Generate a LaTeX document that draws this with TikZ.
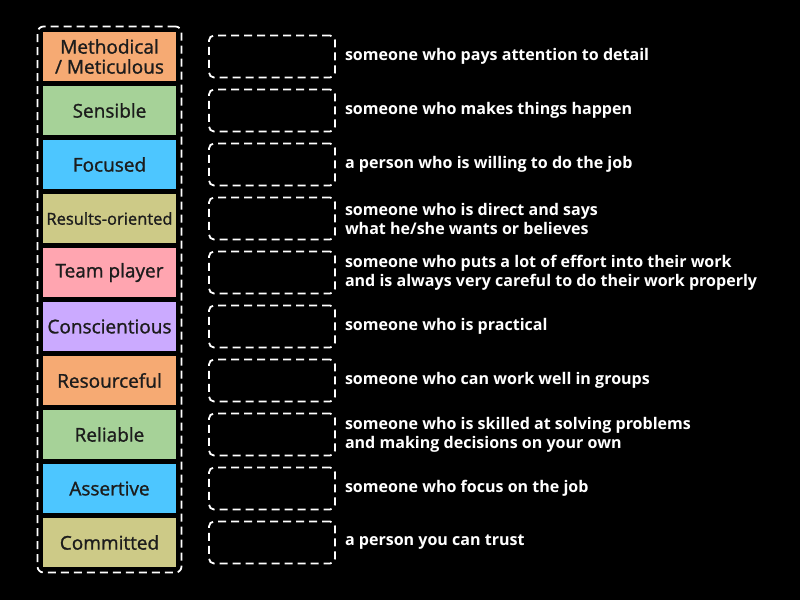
\documentclass[tikz,border=0pt]{standalone}
\usepackage{fontspec}
\setmainfont{Open Sans}
\newfontfamily\cardfont[FakeBold=1.2]{Open Sans}
\usetikzlibrary{positioning,fit}
\definecolor{cardorange}{RGB}{246,170,115}
\definecolor{cardgreen} {RGB}{166,210,152}
\definecolor{cardblue}  {RGB}{ 77,198,255}
\definecolor{cardolive} {RGB}{205,202,135}
\definecolor{cardpink}  {RGB}{255,165,176}
\definecolor{cardpurple}{RGB}{203,170,255}
\definecolor{cardtext}  {RGB}{ 28, 28, 28}

\begin{document}
\begin{tikzpicture}[
  node distance=5pt and 33pt,
  every node/.style={align=center, outer sep=0pt},
  word/.style={fill=#1, text=cardtext, minimum width=133pt, minimum height=49pt,
    inner sep=0pt, font=\cardfont\fontsize{19}{20}\selectfont},
  slot/.style={draw=white, line width=1.8pt, dash pattern=on 8pt off 5pt,
    rounded corners=5pt, minimum width=126pt, minimum height=42pt, inner sep=0pt},
  defn/.style={right=7pt of #1, text=white, align=left, inner sep=3pt,
    font=\bfseries\fontsize{16.05}{19}\selectfont},
  frame/.style={draw=white, line width=1.8pt, dash pattern=on 8pt off 5pt,
    rounded corners=6pt, inner sep=5.5pt}
]
  % Background and page size
  \fill[black] (0,0) rectangle (800pt,-600pt);
  \path[use as bounding box] (0,0) rectangle (800pt,-600pt);

  % Word cards
  \node (methodical) [word=cardorange] at (109.5pt,-56.5pt) {Methodical\\/ Meticulous};
  \node (sensible) [word=cardgreen, below=of methodical] {Sensible};
  \node (focused) [word=cardblue, below=of sensible] {Focused};
  \node (results) [word=cardolive, below=of focused, font=\cardfont\fontsize{16.5}{17}\selectfont] {Results-oriented};
  \node (team) [word=cardpink, below=of results] {Team player};
  \node (conscientious) [word=cardpurple, below=of team] {Conscientious};
  \node (resourceful) [word=cardorange, below=of conscientious] {Resourceful};
  \node (reliable) [word=cardgreen, below=of resourceful] {Reliable};
  \node (assertive) [word=cardblue, below=of reliable] {Assertive};
  \node (committed) [word=cardolive, below=of assertive] {Committed};

  \node (cards) [frame, fit=(methodical)(committed)] {};

  % Empty slots
  \node (slot1) [slot, right=of methodical] {};
  \node (slot2) [slot, right=of sensible] {};
  \node (slot3) [slot, right=of focused] {};
  \node (slot4) [slot, right=of results] {};
  \node (slot5) [slot, right=of team] {};
  \node (slot6) [slot, right=of conscientious] {};
  \node (slot7) [slot, right=of resourceful] {};
  \node (slot8) [slot, right=of reliable] {};
  \node (slot9) [slot, right=of assertive] {};
  \node (slot10) [slot, right=of committed] {};

  % Definitions
  \node (def1) [defn=slot1] {someone who pays attention to detail};
  \node (def2) [defn=slot2] {someone who makes things happen};
  \node (def3) [defn=slot3] {a person who is willing to do the job};
  \node (def4) [defn=slot4] {someone who is direct and says\\what he/she wants or believes};
  \node (def5) [defn=slot5] {someone who puts a lot of effort into their work\\and is always very careful to do their work properly};
  \node (def6) [defn=slot6] {someone who is practical};
  \node (def7) [defn=slot7] {someone who can work well in groups};
  \node (def8) [defn=slot8] {someone who is skilled at solving problems\\and making decisions on your own};
  \node (def9) [defn=slot9] {someone who focus on the job};
  \node (def10) [defn=slot10] {a person you can trust};
\end{tikzpicture}
\end{document}
